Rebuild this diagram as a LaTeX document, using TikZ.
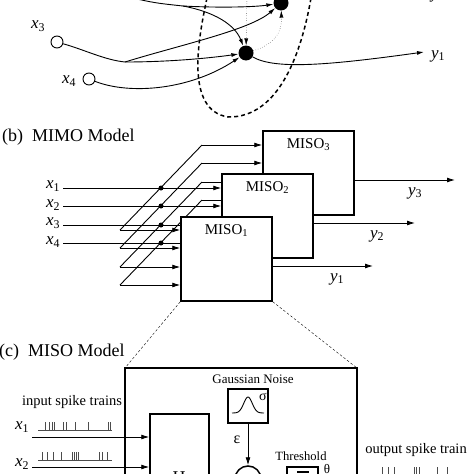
\documentclass[tikz,border=0pt]{standalone}
\usepackage{fontspec}
\setmainfont{Liberation Serif}
\usetikzlibrary{arrows.meta,positioning,calc}

\tikzstyle{arrow} = [-{Latex[length=8pt,width=5pt]}]
\tikzstyle{sarrow} = [-{Latex[length=7pt,width=4pt]}]
\tikzstyle{wire} = [line width=0.9pt]
\tikzstyle{box} = [draw,line width=1.5pt,fill=white,inner sep=0pt]
\tikzstyle{miso} = [box,minimum width=91pt,minimum height=84pt]
\tikzstyle{misolbl} = [inner sep=0pt,font=\fontsize{15}{17}\selectfont]
\tikzstyle{lbl} = [inner sep=0pt,font=\fontsize{17}{19}\selectfont]
\tikzstyle{txt} = [inner sep=0pt,font=\fontsize{14.5}{16}\selectfont]
\tikzstyle{title} = [inner sep=0pt,anchor=west,font=\fontsize{18}{20}\selectfont]
\tikzstyle{neuron} = [circle,fill=black,inner sep=0pt,minimum size=15pt]
\tikzstyle{innode} = [circle,draw,line width=0.9pt,fill=white,inner sep=0pt,minimum size=12pt]
\tikzstyle{dotnode} = [circle,fill=black,inner sep=0pt,minimum size=5pt]
\tikzstyle{spk} = [line width=0.9pt,draw=black!70]

\newcommand\var[2]{\textit{#1}\textsubscript{#2}}
\newcommand\spike[3][]{\draw[#1] (#2,#3) -- ++(0,-8);}

\begin{document}
\begin{tikzpicture}[x=1pt,y=-1pt]
\useasboundingbox (0,0) rectangle (474,474);
\clip (0,0) rectangle (474,474);

% (a) network
\node[neuron] (n2) at (281,3) {};
\node[neuron] (n1) at (246,53) {};
\node[innode] (x3) at (57,42) {};
\node[innode] (x4) at (89,79) {};
\node[lbl] (lx3) at (38,26) {\var{x}{3}};
\node[lbl] (lx4) at (69,81) {\var{x}{4}};
\node[lbl] (ly1) at (438,56) {\var{y}{1}};
\node[lbl] (ly2) at (438,-4) {\var{y}{2}};
\coordinate (top1) at (128,-3);
\coordinate (top2) at (247,-6);
\coordinate (j1) at (183,6);
\coordinate (j3) at (125,62);
\coordinate (y1e) at (424,52);

\draw [wire] (top1) .. controls (155,3) .. (j1);
\draw [wire,sarrow] (j1) .. controls (220,8) and (255,7) .. (n2); % x1-n2
\draw [wire,sarrow] (j1) .. controls (215,12) and (235,25) .. (n1); % x1-n1
\draw [wire] (x3) .. controls (85,50) and (105,60) .. (j3);
\draw [wire,sarrow] (j3) .. controls (170,62) and (210,58) .. (n1); % x3-n1
\draw [wire,sarrow] (j3) .. controls (180,45) and (250,30) .. (n2); % x3-n2
\draw [wire,sarrow] (x4) .. controls (130,95) and (190,90) .. (n1); % x4-n1
\draw [wire,sarrow] (n1) .. controls (275,70) and (330,65) .. (y1e); % n1-y1
\draw [thin,dotted,sarrow] (top2) -- (n1);
\draw [thin,dotted,sarrow] (n1) .. controls (272,45) and (282,35) .. (n2); % n1-n2
\draw [line width=1.5pt,dash pattern=on 4pt off 3pt]
  (207,-2) .. controls (198,40) and (185,110) .. (228,117)
  .. controls (280,118) and (302,50) .. (311,-2);

% (b) MIMO
\node[title] (tb) at (2,137) {(b)\ \ MIMO Model};

\node[lbl] (bx1) at (53,186) {\var{x}{1}};
\node[lbl] (bx2) at (53,205) {\var{x}{2}};
\node[lbl] (bx3) at (53,223) {\var{x}{3}};
\node[lbl] (bx4) at (53,242) {\var{x}{4}};
\coordinate (s1) at (63,188);
\coordinate (s2) at (63,206);
\coordinate (s3) at (63,225);
\coordinate (s4) at (63,243);
\coordinate (hi1) at (202,145);
\coordinate (hi2) at (202,163);
\coordinate (hi3) at (202,182);
\coordinate (hi4) at (202,200);
\coordinate (lo1) at (120,230);
\coordinate (lo2) at (120,248);
\coordinate (lo3) at (120,267);
\coordinate (lo4) at (120,285);

\node[miso] (m3) at (308.5,173) {};
\node[misolbl] (lm3) at ([yshift=-14pt]m3.north) {MISO\textsubscript{3}};
\draw [wire,arrow] (hi1) -- (hi1 -| m3.west);
\draw [wire,arrow] (hi2) -- (hi2 -| m3.west);
\draw [wire,arrow] (hi3) -- (hi3 -| m3.west);
\draw [wire,arrow] (hi4) -- (hi4 -| m3.west);

\node[miso] (m2) at (267.5,216) {};
\node[misolbl] (lm2) at ([yshift=-14pt]m2.north) {MISO\textsubscript{2}};
\draw [wire,arrow] (s1) -- (s1 -| m2.west);
\draw [wire,arrow] (s2) -- (s2 -| m2.west);
\draw [wire,arrow] (s3) -- (s3 -| m2.west);
\draw [wire,arrow] (s4) -- (s4 -| m2.west);
\draw [wire] (lo1) -- (hi1);
\draw [wire] (lo2) -- (hi2);
\draw [wire] (lo3) -- (hi3);
\draw [wire] (lo4) -- (hi4);

\node[miso] (m1) at (226.5,259) {};
\node[misolbl] (lm1) at ([yshift=-14pt]m1.north) {MISO\textsubscript{1}};
\draw [wire,arrow] (lo1) -- (lo1 -| m1.west);
\draw [wire,arrow] (lo2) -- (lo2 -| m1.west);
\draw [wire,arrow] (lo3) -- (lo3 -| m1.west);
\draw [wire,arrow] (lo4) -- (lo4 -| m1.west);

\node[dotnode] (d1) at (161,188) {};
\node[dotnode] (d2) at (161,206) {};
\node[dotnode] (d3) at (161,225) {};
\node[dotnode] (d4) at (161,243) {};

\coordinate (y3e) at (455,180);
\coordinate (y2e) at (415,223);
\coordinate (y1f) at (373,266);
\draw [wire,arrow] (y3e -| m3.east) -- (y3e);
\draw [wire,arrow] (y2e -| m2.east) -- (y2e);
\draw [wire,arrow] (y1f -| m1.east) -- (y1f);
\node[lbl] (by3) at (415,193) {\var{y}{3}};
\node[lbl] (by2) at (377,236) {\var{y}{2}};
\node[lbl] (by1) at (337,279) {\var{y}{1}};

% (c) MISO
\node[title] (tc) at (-1,352) {(c)\ \ MISO Model};
\coordinate (cTL) at (125,368);
\coordinate (cTR) at (357,368);
\coordinate (cBL) at (125,490);
\coordinate (cBR) at (357,490);
\draw [thin,dash pattern=on 2.5pt off 2pt] (m1.south west) -- (cTL);
\draw [thin,dash pattern=on 2.5pt off 2pt] (m1.south east) -- (cTR);
\draw [line width=1.5pt] (cBL) -- (cTL) -- (cTR) -- (cBR);

\node[txt] (itrain) at (72,402) {input spike trains};
\node[lbl] (cx1) at (22,427) {\var{x}{1}};
\node[lbl] (cx2) at (22,464) {\var{x}{2}};
\draw [spk] (38,430) -- (112,430);
\spike[spk]{45}{430} \spike[spk]{49}{430} \spike[spk]{52}{430}
\spike[spk]{54}{430} \spike[spk]{63}{430} \spike[spk]{66}{430}
\spike[spk]{75}{430} \spike[spk]{88}{430} \spike[spk]{108}{430}
\spike[spk]{110}{430}
\draw [spk] (38,460) -- (112,460);
\spike[spk]{42}{460} \spike[spk]{47}{460} \spike[spk]{53}{460}
\spike[spk]{61}{460} \spike[spk]{72}{460} \spike[spk]{74}{460}
\spike[spk]{76}{460} \spike[spk]{78}{460} \spike[spk]{99}{460}
\spike[spk]{102}{460} \spike[spk]{107}{460}

\node[box,minimum width=59pt,minimum height=80pt] (hbox) at (179.5,454) {};
\node[lbl,font=\fontsize{18}{20}\selectfont] (hlbl) at (179,478) {H};
\coordinate (cs1) at (32,437);
\coordinate (cs2) at (32,467);
\draw [wire,arrow] (cs1) -- (cs1 -| hbox.west);
\draw [wire,arrow] (cs2) -- (cs2 -| hbox.west);

\node[inner sep=0pt,font=\fontsize{13}{15}\selectfont] (gn) at (253,379) {Gaussian Noise};
\node[box,minimum width=40pt,minimum height=34pt] (gauss) at (248,406) {};
\draw [wire] plot[domain=-16:16,samples=41] ({248+\x},{413-16*exp(-(\x/6)^2)});
\node[inner sep=0pt,font=\fontsize{14}{16}\selectfont] (sig) at (263,397) {σ};
\node[circle,draw,line width=1.5pt,inner sep=0pt,minimum size=26pt] (sum) at (248,479) {};
\draw [wire,arrow] (gauss) -- (sum);
\node[inner sep=0pt,font=\fontsize{16}{18}\selectfont] (eps) at (237,440) {ε};

\node[inner sep=0pt,font=\fontsize{12.6}{15}\selectfont] (thl) at (301,456) {Threshold};
\node[box,minimum width=31pt,minimum height=28pt] (thr) at (302.5,481) {};
\draw [line width=1.2pt] (297,472) -- (309,472);
\node[inner sep=0pt,font=\fontsize{13}{15}\selectfont] (th) at (327,469) {θ};

\node[txt] (otrain) at (416,450) {output spike train};
\spike[spk]{382}{475} \spike[spk]{388}{475} \spike[spk]{394}{475}
\spike[spk]{414}{475} \spike[spk]{416}{475} \spike[spk]{419}{475}
\spike[spk]{437}{475} \spike[spk]{447}{475}

\end{tikzpicture}
\end{document}
